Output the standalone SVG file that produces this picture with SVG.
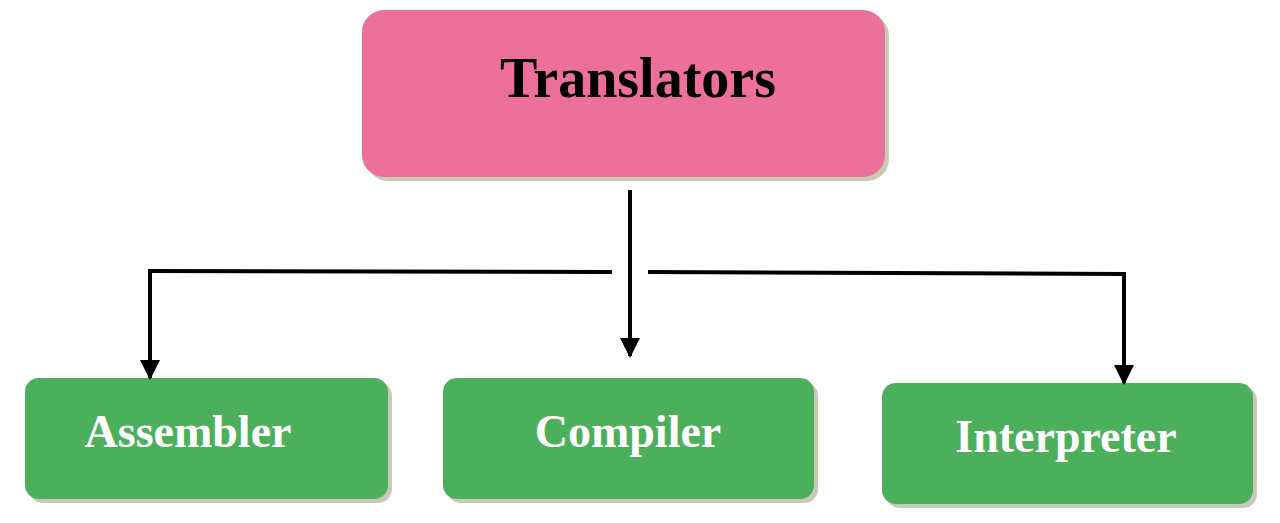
<svg xmlns="http://www.w3.org/2000/svg" width="1280" height="523" viewBox="0 0 1280 523">
<style>
.g{fill:#4caf5c;}
.sh{fill:#c9c9b8;}
.t{font-family:"Liberation Serif",serif;font-weight:bold;text-anchor:middle;}
.w{fill:#fff;font-size:46px;}
.c{stroke:#000;stroke-width:4;fill:none;}
</style>
<defs><marker id="a" viewBox="0 0 10 10" refX="9" refY="5" markerWidth="5" markerHeight="5" orient="auto"><path d="M0,0L10,5L0,10z" fill="#000"/></marker></defs>
<rect width="1280" height="523" fill="#fff"/>
<g id="translators"><rect x="366" y="14" width="523" height="167" rx="22" class="sh"/><rect x="362" y="10" width="523" height="167" rx="22" fill="#ec7099"/><text x="638" y="97" class="t" font-size="56">Translators</text></g>
<g id="assembler"><rect x="29" y="382" width="363" height="121" rx="14" class="sh"/><rect x="25" y="378" width="363" height="121" rx="14" class="g"/><text x="188" y="447" class="t w">Assembler</text></g>
<g id="compiler"><rect x="447" y="382" width="371" height="121" rx="14" class="sh"/><rect x="443" y="378" width="371" height="121" rx="14" class="g"/><text x="628" y="447" class="t w">Compiler</text></g>
<g id="interpreter"><rect x="886" y="387" width="371" height="121" rx="14" class="sh"/><rect x="882" y="383" width="371" height="121" rx="14" class="g"/><text x="1066" y="452" class="t w">Interpreter</text></g>
<g id="connectors">
<line x1="630" y1="190" x2="630" y2="356" class="c" marker-end="url(#a)"/>
<line x1="148" y1="271" x2="612" y2="272" class="c"/>
<line x1="648" y1="272" x2="1126" y2="274" class="c"/>
<line x1="150" y1="271" x2="150" y2="378" class="c" marker-end="url(#a)"/>
<line x1="1124" y1="274" x2="1124" y2="383" class="c" marker-end="url(#a)"/>
</g>
</svg>
